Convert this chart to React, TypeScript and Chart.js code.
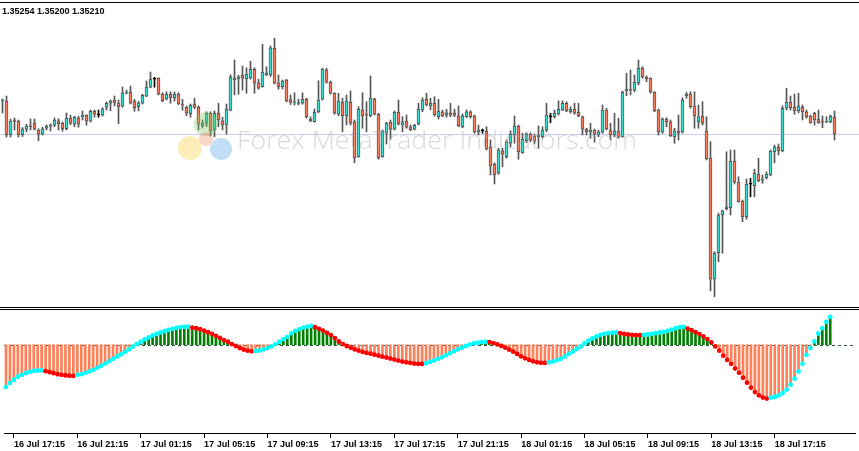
import React, { useEffect, useRef } from "react";
import { Chart, registerables } from "chart.js";

Chart.register(...registerables);

// ---- price data (M15 candles, 16 Jul 16:45 .. 18 Jul 20:45) ----
const opens = [
  1.35342, 1.35342, 1.35206, 1.35266, 1.35262, 1.35207, 1.35229, 1.35243, 1.35253, 1.35226,
  1.35209, 1.35233, 1.35241, 1.35245, 1.35263, 1.35253, 1.35231, 1.35274, 1.35249, 1.35274,
  1.35278, 1.35285, 1.35261, 1.35301, 1.35286, 1.35285, 1.35317, 1.35333, 1.35346, 1.35334,
  1.35321, 1.35373, 1.35377, 1.35342, 1.35319, 1.35333, 1.35361, 1.35397, 1.35429, 1.35434,
  1.3537, 1.35349, 1.35369, 1.35355, 1.35369, 1.3533, 1.35317, 1.35291, 1.3533, 1.35317,
  1.35243, 1.35253, 1.35293, 1.35226, 1.35293, 1.35263, 1.35246, 1.35305, 1.35427, 1.3543,
  1.35445, 1.35431, 1.35433, 1.35469, 1.35415, 1.35399, 1.35446, 1.35446, 1.35553, 1.35415,
  1.35399, 1.35426, 1.35348, 1.35334, 1.35332, 1.35333, 1.35349, 1.3527, 1.35259, 1.35299,
  1.35349, 1.35466, 1.35417, 1.35373, 1.35289, 1.35337, 1.35283, 1.35337, 1.35259, 1.35119,
  1.35306, 1.35287, 1.35283, 1.35349, 1.35289, 1.35119, 1.35213, 1.35257, 1.35229, 1.35297,
  1.35246, 1.35262, 1.35239, 1.35229, 1.3525, 1.35306, 1.35349, 1.35323, 1.35333, 1.35279,
  1.35299, 1.35285, 1.35295, 1.35295, 1.35283, 1.35239, 1.35279, 1.35299, 1.35282, 1.35217,
  1.35223, 1.35222, 1.35157, 1.35089, 1.35053, 1.35143, 1.35119, 1.35173, 1.35206, 1.35242,
  1.35135, 1.35183, 1.3521, 1.35202, 1.35199, 1.35199, 1.35226, 1.35279, 1.35279, 1.35289,
  1.35306, 1.35333, 1.35299, 1.35309, 1.35297, 1.35279, 1.35229, 1.35217, 1.35226, 1.35206,
  1.35217, 1.35306, 1.35226, 1.35206, 1.35222, 1.35199, 1.35382, 1.3539, 1.35385, 1.35413,
  1.35473, 1.35437, 1.35433, 1.35377, 1.35306, 1.35217, 1.3527, 1.35259, 1.35199, 1.35222,
  1.35217, 1.35363, 1.3537, 1.35322, 1.35259, 1.35282, 1.35222, 1.35113, 1.34629, 1.34735,
  1.34886, 1.34911, 1.34915, 1.35102, 1.35017, 1.34942, 1.34879, 1.35009, 1.35003, 1.35049,
  1.35025, 1.35035, 1.35046, 1.35139, 1.35157, 1.35143, 1.35313, 1.35337, 1.35317, 1.35303,
  1.35317, 1.35299, 1.35282, 1.35293, 1.35269, 1.35262, 1.35257, 1.35259, 1.35277,
];
const highs = [
  1.3535, 1.35362, 1.3527, 1.35274, 1.35266, 1.35236, 1.35249, 1.3527, 1.3527, 1.35231,
  1.35237, 1.35247, 1.35251, 1.35274, 1.35271, 1.35258, 1.35294, 1.35285, 1.35281, 1.35281,
  1.35302, 1.35287, 1.35306, 1.35306, 1.35306, 1.35315, 1.35339, 1.35346, 1.35362, 1.35346,
  1.35398, 1.35386, 1.35402, 1.35349, 1.35341, 1.35369, 1.35422, 1.35458, 1.35437, 1.35435,
  1.35375, 1.35379, 1.35379, 1.35378, 1.35375, 1.35349, 1.35322, 1.3533, 1.35353, 1.35323,
  1.35266, 1.35299, 1.35299, 1.35302, 1.35333, 1.35277, 1.3533, 1.35447, 1.35506, 1.35445,
  1.35482, 1.35475, 1.35501, 1.35475, 1.35429, 1.35569, 1.35479, 1.35562, 1.35593, 1.35446,
  1.35426, 1.35429, 1.35366, 1.35375, 1.35349, 1.35375, 1.35353, 1.35279, 1.3531, 1.35423,
  1.35473, 1.35473, 1.35422, 1.35375, 1.35373, 1.35353, 1.35366, 1.35382, 1.35266, 1.35319,
  1.35375, 1.35339, 1.35442, 1.35353, 1.35293, 1.35226, 1.35257, 1.35266, 1.35302, 1.35346,
  1.35279, 1.35286, 1.35246, 1.35249, 1.35333, 1.35355, 1.35373, 1.35353, 1.35359, 1.35349,
  1.35306, 1.35309, 1.35333, 1.35309, 1.35322, 1.3529, 1.35306, 1.35303, 1.35286, 1.35246,
  1.3523, 1.35239, 1.35186, 1.35095, 1.35153, 1.35153, 1.35186, 1.35223, 1.35282, 1.35246,
  1.35213, 1.35215, 1.35215, 1.3521, 1.35242, 1.35239, 1.35333, 1.35293, 1.35306, 1.35343,
  1.35343, 1.35339, 1.35319, 1.35333, 1.35333, 1.35282, 1.35233, 1.35253, 1.3523, 1.35226,
  1.35326, 1.35313, 1.35253, 1.35293, 1.35273, 1.35382, 1.35453, 1.35466, 1.35446, 1.35506,
  1.35479, 1.35443, 1.35435, 1.35379, 1.3531, 1.35275, 1.35275, 1.35266, 1.35233, 1.35286,
  1.35355, 1.35377, 1.35379, 1.35379, 1.35326, 1.35339, 1.35279, 1.35179, 1.34739, 1.34893,
  1.34906, 1.35139, 1.35146, 1.35146, 1.35039, 1.34946, 1.3503, 1.35033, 1.35069, 1.35113,
  1.35046, 1.35059, 1.35146, 1.35166, 1.3517, 1.35322, 1.35393, 1.35362, 1.3537, 1.35373,
  1.35326, 1.35306, 1.35286, 1.35297, 1.35306, 1.35282, 1.35279, 1.35286, 1.35302,
];
const lows = [
  1.35294, 1.35198, 1.35198, 1.35226, 1.35198, 1.352, 1.35219, 1.35226, 1.35226, 1.35183,
  1.35206, 1.35226, 1.35222, 1.35239, 1.35226, 1.35221, 1.35226, 1.35247, 1.35239, 1.35237,
  1.35266, 1.35245, 1.35258, 1.35277, 1.35277, 1.35282, 1.35306, 1.35303, 1.35322, 1.35251,
  1.35317, 1.3537, 1.3533, 1.35301, 1.35303, 1.3533, 1.35359, 1.35395, 1.35397, 1.35366,
  1.35339, 1.35346, 1.35333, 1.35342, 1.35327, 1.35305, 1.35283, 1.35277, 1.35311, 1.35226,
  1.35234, 1.35239, 1.35202, 1.35199, 1.35239, 1.35226, 1.3521, 1.35302, 1.35366, 1.35369,
  1.35386, 1.35373, 1.35429, 1.35373, 1.35389, 1.35397, 1.35443, 1.35439, 1.3541, 1.35389,
  1.3539, 1.35338, 1.35328, 1.35326, 1.35326, 1.35329, 1.35273, 1.35259, 1.35257, 1.35295,
  1.35346, 1.35413, 1.35369, 1.35289, 1.35283, 1.35219, 1.35246, 1.35246, 1.35095, 1.35117,
  1.35233, 1.35219, 1.35279, 1.35286, 1.35109, 1.35117, 1.3517, 1.35189, 1.35226, 1.35246,
  1.35219, 1.35233, 1.35223, 1.35226, 1.35246, 1.35299, 1.35322, 1.35306, 1.35282, 1.3527,
  1.35279, 1.35277, 1.35279, 1.35279, 1.35239, 1.35235, 1.35275, 1.35273, 1.35213, 1.35206,
  1.35213, 1.35146, 1.35046, 1.3501, 1.35049, 1.35079, 1.35113, 1.35159, 1.35173, 1.35109,
  1.35133, 1.35175, 1.35179, 1.3517, 1.35153, 1.35193, 1.35219, 1.35255, 1.35273, 1.35286,
  1.35303, 1.35299, 1.35293, 1.35289, 1.35279, 1.35206, 1.35206, 1.35193, 1.35177, 1.35199,
  1.35213, 1.35226, 1.35186, 1.35199, 1.35193, 1.35197, 1.35363, 1.35366, 1.35379, 1.35406,
  1.35433, 1.35419, 1.35373, 1.35299, 1.35206, 1.35213, 1.35239, 1.35199, 1.35173, 1.35186,
  1.35214, 1.35353, 1.35313, 1.35233, 1.35233, 1.35246, 1.35106, 1.34583, 1.34559, 1.34699,
  1.34733, 1.34906, 1.34886, 1.3501, 1.34937, 1.34859, 1.34869, 1.34959, 1.34959, 1.35019,
  1.35013, 1.3503, 1.35043, 1.35095, 1.35126, 1.35139, 1.35306, 1.35306, 1.35289, 1.35295,
  1.35266, 1.35273, 1.35253, 1.35246, 1.35253, 1.35235, 1.35255, 1.35255, 1.35186,
];
const closes = [
  1.35346, 1.35206, 1.35262, 1.3526, 1.35206, 1.3523, 1.35241, 1.35239, 1.35229, 1.35209,
  1.35231, 1.35242, 1.35247, 1.35266, 1.35251, 1.35231, 1.35273, 1.35253, 1.35277, 1.3525,
  1.35285, 1.35261, 1.35301, 1.35289, 1.35286, 1.35311, 1.35333, 1.35343, 1.35335, 1.35319,
  1.35374, 1.35378, 1.35333, 1.35315, 1.35334, 1.35365, 1.35398, 1.3543, 1.35429, 1.35369,
  1.35343, 1.35369, 1.35355, 1.35369, 1.3533, 1.35325, 1.35293, 1.35325, 1.35317, 1.35249,
  1.35253, 1.35293, 1.35221, 1.35293, 1.35266, 1.35246, 1.35309, 1.35438, 1.35435, 1.35439,
  1.35433, 1.3545, 1.35469, 1.35413, 1.35393, 1.35458, 1.35455, 1.35555, 1.35413, 1.35399,
  1.35422, 1.35342, 1.35336, 1.35339, 1.35334, 1.35349, 1.35279, 1.35262, 1.35297, 1.35346,
  1.3547, 1.35417, 1.35373, 1.35293, 1.35342, 1.35283, 1.35342, 1.35253, 1.35115, 1.35309,
  1.35283, 1.35285, 1.35353, 1.35289, 1.35115, 1.35222, 1.35253, 1.35229, 1.35297, 1.3525,
  1.35259, 1.35237, 1.35226, 1.35245, 1.35309, 1.35346, 1.35326, 1.35333, 1.35286, 1.35302,
  1.35283, 1.35295, 1.35285, 1.35285, 1.35243, 1.35283, 1.35299, 1.35279, 1.35217, 1.35226,
  1.35223, 1.3515, 1.35082, 1.35046, 1.35146, 1.35129, 1.35179, 1.3521, 1.35242, 1.35139,
  1.35189, 1.3521, 1.35186, 1.35181, 1.35205, 1.35226, 1.35286, 1.35279, 1.35293, 1.35309,
  1.35333, 1.35303, 1.35309, 1.35293, 1.35283, 1.35229, 1.35219, 1.35226, 1.35209, 1.35219,
  1.35306, 1.3523, 1.35206, 1.35222, 1.35197, 1.35377, 1.3539, 1.35385, 1.35417, 1.35473,
  1.35439, 1.3543, 1.35379, 1.35302, 1.35219, 1.3527, 1.35259, 1.35203, 1.35223, 1.35213,
  1.35346, 1.35369, 1.35319, 1.35282, 1.35279, 1.35253, 1.3511, 1.34629, 1.34733, 1.34886,
  1.34902, 1.34919, 1.35102, 1.35019, 1.34939, 1.34879, 1.35009, 1.35009, 1.35053, 1.35023,
  1.35027, 1.35049, 1.35142, 1.35159, 1.35143, 1.35313, 1.35337, 1.35315, 1.35303, 1.35322,
  1.35299, 1.35279, 1.35255, 1.35266, 1.35255, 1.35257, 1.35262, 1.35282, 1.3521,
];

// ---- oscillator values (histogram + dotted signal) ----
const osc = [
  -4.27, -3.87, -3.53, -3.23, -3.03, -2.87, -2.73, -2.63, -2.6, -2.59,
  -2.67, -2.77, -2.87, -2.97, -3.03, -3.1, -3.13, -3.15, -3.03, -2.97,
  -2.83, -2.7, -2.53, -2.33, -2.13, -1.9, -1.67, -1.43, -1.2, -0.97,
  -0.73, -0.47, -0.2, 0.07, 0.3, 0.53, 0.73, 0.93, 1.1, 1.23,
  1.37, 1.5, 1.6, 1.7, 1.77, 1.8, 1.81, 1.73, 1.67, 1.57,
  1.43, 1.27, 1.1, 0.9, 0.7, 0.47, 0.3, 0.07, -0.13, -0.33,
  -0.5, -0.6, -0.67, -0.63, -0.57, -0.47, -0.33, -0.17, 0.07, 0.3,
  0.57, 0.8, 1.15, 1.4, 1.57, 1.73, 1.83, 1.9, 1.77, 1.6,
  1.43, 1.2, 0.97, 0.67, 0.33, 0.07, -0.13, -0.3, -0.47, -0.6,
  -0.73, -0.83, -0.9, -1.0, -1.1, -1.2, -1.3, -1.4, -1.5, -1.6,
  -1.7, -1.77, -1.83, -1.9, -1.93, -1.94, -1.87, -1.73, -1.6, -1.43,
  -1.27, -1.07, -0.87, -0.67, -0.47, -0.3, -0.13, 0.01, 0.13, 0.2,
  0.27, 0.3, 0.27, 0.17, 0.03, -0.13, -0.3, -0.5, -0.7, -0.93,
  -1.17, -1.37, -1.53, -1.67, -1.77, -1.83, -1.84, -1.77, -1.7, -1.57,
  -1.42, -1.2, -0.93, -0.7, -0.43, -0.2, 0.13, 0.4, 0.63, 0.83,
  1.0, 1.1, 1.17, 1.21, 1.23, 1.17, 1.1, 1.03, 1.0, 0.97,
  0.96, 1.0, 1.03, 1.1, 1.17, 1.23, 1.3, 1.4, 1.53, 1.67,
  1.77, 1.8, 1.63, 1.47, 1.27, 1.07, 0.83, 0.57, 0.23, -0.17,
  -0.6, -1.1, -1.53, -1.93, -2.4, -2.83, -3.33, -3.83, -4.33, -4.77,
  -5.1, -5.33, -5.43, -5.33, -5.27, -5.1, -4.87, -4.53, -4.03, -3.43,
  -2.7, -1.93, -1.03, -0.33, 0.33, 1.13, 1.67, 2.3, 2.8,
];

// ---- time axis ----
const tickLabels = [
  "16 Jul 17:15", "16 Jul 21:15", "17 Jul 01:15", "17 Jul 05:15", "17 Jul 09:15",
  "17 Jul 13:15", "17 Jul 17:15", "17 Jul 21:15", "18 Jul 01:15", "18 Jul 05:15",
  "18 Jul 09:15", "18 Jul 13:15", "18 Jul 17:15",
];
const tickBars = [2, 18, 34, 50, 66, 82, 98, 114, 130, 146, 162, 178, 194];
const headerValues = ["1.35254", "1.35200", "1.35210"];

const BULL = "#40E0D0";
const BEAR = "#F8805E";
const WICK = "#555555";
const CYAN = "#00FFFF";
const RED = "#FF0000";
const GREEN = "#008000";
const SALMON = "#FF7F58";
const FONT = '"Liberation Sans", Arial, sans-serif';

export default function App() {
  const mainRef = useRef<HTMLCanvasElement>(null);
  const indRef = useRef<HTMLCanvasElement>(null);

  useEffect(() => {
    if (!mainRef.current || !indRef.current) return;
    const n = opens.length;
    const idx = opens.map((_, i) => i);
    const doji = (i: number) => opens[i] === closes[i];

    const mainDecor = {
      id: "mainDecor",
      beforeDatasetsDraw(chart: any) {
        const { ctx, scales } = chart;
        const y = Math.round(scales.y.getPixelForValue(closes[n - 1])) + 0.5;
        ctx.save();
        ctx.strokeStyle = "#CCCCF2";
        ctx.lineWidth = 1;
        ctx.beginPath();
        ctx.moveTo(0, y);
        ctx.lineTo(chart.width, y);
        ctx.stroke();
        ctx.restore();
      },
      afterDatasetsDraw(chart: any) {
        const { ctx } = chart;
        ctx.save();
        const circ = (x: number, y: number, r: number, c: string) => {
          ctx.beginPath();
          ctx.arc(x, y, r, 0, Math.PI * 2);
          ctx.fillStyle = c;
          ctx.fill();
        };
        circ(206, 124, 12, "rgba(130,200,100,0.35)");
        circ(190, 148, 12, "rgba(250,215,100,0.45)");
        circ(221, 149, 11, "rgba(120,180,235,0.45)");
        circ(206, 139, 7, "rgba(240,130,100,0.35)");
        ctx.font = `300 25px "Open Sans", ${FONT}`;
        ctx.fillStyle = "rgba(170,170,170,0.45)";
        const s = "Forex MetaTrader Indicators.com";
        const w = ctx.measureText(s).width;
        ctx.translate(237, 148.5);
        ctx.scale(400 / w, 1);
        ctx.textBaseline = "alphabetic";
        ctx.fillText(s, 0, 0);
        ctx.restore();
      },
      afterDraw(chart: any) {
        const { ctx } = chart;
        ctx.save();
        ctx.fillStyle = "#000";
        ctx.fillRect(0, 2, chart.width, 1);
        ctx.font = `bold 9px ${FONT}`;
        ctx.textBaseline = "alphabetic";
        ctx.fillText(headerValues.join(" "), 2, 14);
        ctx.restore();
      },
    };

    const main = new Chart(mainRef.current, {
      type: "bar",
      data: {
        datasets: [
          {
            data: idx.map((i) => ({ x: i, y: [opens[i], closes[i]] })) as any,
            backgroundColor: idx.map((i) =>
              closes[i] > opens[i] ? BULL : closes[i] < opens[i] ? BEAR : "#000"
            ),
            borderColor: idx.map((i) => (doji(i) ? "#000" : WICK)),
            borderWidth: 1,
            borderSkipped: false,
            barThickness: 3,
            minBarLength: 1,
            grouped: false,
            order: 0,
          } as any,
          {
            data: idx.map((i) => ({ x: i, y: [lows[i], highs[i]] })) as any,
            backgroundColor: idx.map((i) => (doji(i) ? "#000" : WICK)),
            borderWidth: 0,
            barThickness: 1,
            grouped: false,
            order: 1,
          } as any,
        ],
      },
      options: {
        animation: false,
        responsive: false,
        events: [],
        layout: { padding: { top: 3, bottom: 1, left: 0, right: 0 } },
        plugins: { legend: { display: false }, tooltip: { enabled: false } },
        scales: {
          x: {
            type: "linear",
            display: false,
            offset: false,
            bounds: "data",
            grid: { offset: false },
            min: -0.625,
            max: 214.125,
          },
          y: { type: "linear", display: false, min: 1.34522, max: 1.35734 },
        },
      } as any,
      plugins: [mainDecor],
    });

    const indDecor = {
      id: "indDecor",
      beforeDatasetsDraw(chart: any) {
        const { ctx, scales, chartArea } = chart;
        const y = Math.round(scales.y.getPixelForValue(0)) + 0.5;
        ctx.save();
        ctx.strokeStyle = "#2F4F4F";
        ctx.lineWidth = 1;
        ctx.setLineDash([3, 3]);
        ctx.beginPath();
        ctx.moveTo(chartArea.left, y);
        ctx.lineTo(chartArea.right, y);
        ctx.stroke();
        ctx.restore();
      },
      afterDraw(chart: any) {
        const { ctx } = chart;
        ctx.save();
        ctx.fillStyle = "#000";
        ctx.fillRect(0, 0, chart.width, 1);
        ctx.fillRect(0, 2, chart.width, 1);
        ctx.restore();
      },
    };

    const ind = new Chart(indRef.current, {
      type: "bar",
      data: {
        datasets: [
          {
            type: "line",
            data: idx.map((i) => ({ x: i, y: osc[i] })),
            showLine: false,
            pointRadius: 2.4,
            pointBorderWidth: 0,
            pointBackgroundColor: idx.map((i) =>
              i === 0 || osc[i] >= osc[i - 1] ? CYAN : RED
            ),
            order: 0,
          } as any,
          {
            type: "bar",
            data: idx.map((i) => ({ x: i, y: osc[i] })),
            backgroundColor: idx.map((i) => (osc[i] >= 0 ? GREEN : SALMON)),
            borderWidth: 0,
            barThickness: 2,
            grouped: false,
            order: 1,
          } as any,
        ],
      },
      options: {
        animation: false,
        responsive: false,
        events: [],
        layout: { padding: { top: 3, bottom: 0, left: 0, right: 0 } },
        plugins: { legend: { display: false }, tooltip: { enabled: false } },
        scales: {
          x: {
            type: "linear",
            min: -0.5,
            max: 214.25,
            offset: false,
            bounds: "data",
            afterBuildTicks: (s: any) => {
              s.ticks = tickBars.map((v) => ({ value: v }));
            },
            afterFit: (s: any) => {
              s.height = 18;
            },
            grid: {
              offset: false,
              drawOnChartArea: false,
              drawTicks: true,
              tickLength: 5,
              color: "#000",
              lineWidth: 1,
            },
            border: { display: true, color: "#000", width: 1 },
            ticks: {
              align: "start",
              autoSkip: false,
              maxRotation: 0,
              padding: 1,
              color: "#000",
              font: { family: FONT, size: 9, weight: "bold" },
              callback: (_v: any, i: number) => tickLabels[i],
            },
          },
          y: { type: "linear", display: false, min: -8.9, max: 3.4 },
        },
      } as any,
      plugins: [indDecor],
    });

    return () => {
      main.destroy();
      ind.destroy();
    };
  }, []);

  return (
    <div
      style={{
        position: "absolute",
        left: 0,
        top: 0,
        width: 859,
        height: 451,
        background: "#fff",
        overflow: "hidden",
      }}
    >
      <canvas
        ref={mainRef}
        width={859}
        height={307}
        style={{ position: "absolute", left: 0, top: 0, display: "block" }}
      />
      <canvas
        ref={indRef}
        width={859}
        height={144}
        style={{ position: "absolute", left: 0, top: 307, display: "block" }}
      />
    </div>
  );
}
